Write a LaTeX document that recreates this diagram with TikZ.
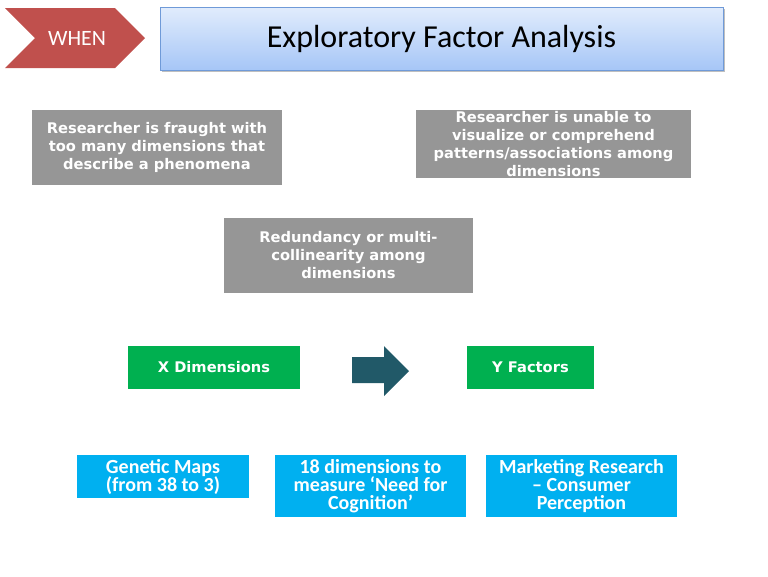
\documentclass[tikz,border=0pt]{standalone}
\usepackage{fontspec}
\setmainfont{DejaVu Sans}
\newfontfamily\calfont{Carlito}
\definecolor{whenred}{HTML}{C0504D}
\definecolor{boxgray}{HTML}{969696}
\definecolor{boxgreen}{HTML}{00B050}
\definecolor{boxblue}{HTML}{00B0F0}
\definecolor{arrowcol}{HTML}{215968}
\definecolor{titletop}{HTML}{E1ECFC}
\definecolor{titlebot}{HTML}{A6C6F7}
\definecolor{titleborder}{HTML}{6F9AD8}
\tikzset{
  basebox/.style={rectangle, inner sep=0pt, align=center, text=white},
  graybox/.style={basebox, fill=boxgray, font=\bfseries\fontsize{11}{13.5}\selectfont},
  greenbox/.style={basebox, fill=boxgreen, font=\bfseries\fontsize{11}{13.5}\selectfont},
  bluebox/.style={basebox, fill=boxblue, font=\calfont\bfseries\fontsize{15}{13.5}\selectfont},
}
\begin{document}
\begin{tikzpicture}[x=0.75pt,y=-0.75pt]
\useasboundingbox (0,0) rectangle (768,576);
% WHEN chevron
\fill[whenred] (5,8) -- (115,8) -- (145,38) -- (115,68) -- (5,68) -- (35,38) -- cycle;
\node[text=white, font=\calfont\fontsize{16.4}{18}\selectfont] (when) at (77,38) {WHEN};
% title
\fill[black!25] (162,9) rectangle (725,72);
\node[rectangle, draw=titleborder, line width=0.6pt, top color=titletop, bottom color=titlebot,
  minimum width=422.25pt, minimum height=47.25pt, inner sep=0pt,
  font=\calfont\fontsize{24}{26}\selectfont] (title) at (441.5,38.5) {Exploratory Factor Analysis};
% gray boxes
\node[graybox, minimum width=187.5pt, minimum height=56.25pt] (g1) at (157,147.5)
  {Researcher is fraught with\\too many dimensions that\\describe a phenomena};
\node[graybox, minimum width=206.25pt, minimum height=51pt] (g2) at (553.5,144)
  {Researcher is unable to\\visualize or comprehend\\patterns/associations among\\dimensions};
\node[graybox, minimum width=186.75pt, minimum height=56.25pt] (g3) at (348.5,255.5)
  {Redundancy or multi-\\collinearity among\\dimensions};
% green boxes
\node[greenbox, minimum width=129pt, minimum height=32.25pt] (x) at (214,367.5) {X Dimensions};
\node[greenbox, minimum width=95.25pt, minimum height=32.25pt] (y) at (530.5,367.5) {Y Factors};
% arrow
\fill[arrowcol] (352,357) -- (384,357) -- (384,346) -- (409,371) -- (384,396) -- (384,383) -- (352,383) -- cycle;
% blue boxes
\node[bluebox, minimum width=129pt, minimum height=32.25pt] (b1) at (163,476.5)
  {Genetic Maps\\(from 38 to 3)};
\node[bluebox, minimum width=143.25pt, minimum height=46.5pt] (b2) at (370.5,486)
  {18 dimensions to\\measure ‘Need for\\Cognition’};
\node[bluebox, minimum width=143.25pt, minimum height=46.5pt] (b3) at (581.5,486)
  {Marketing Research\\– Consumer\\Perception};
\end{tikzpicture}
\end{document}
